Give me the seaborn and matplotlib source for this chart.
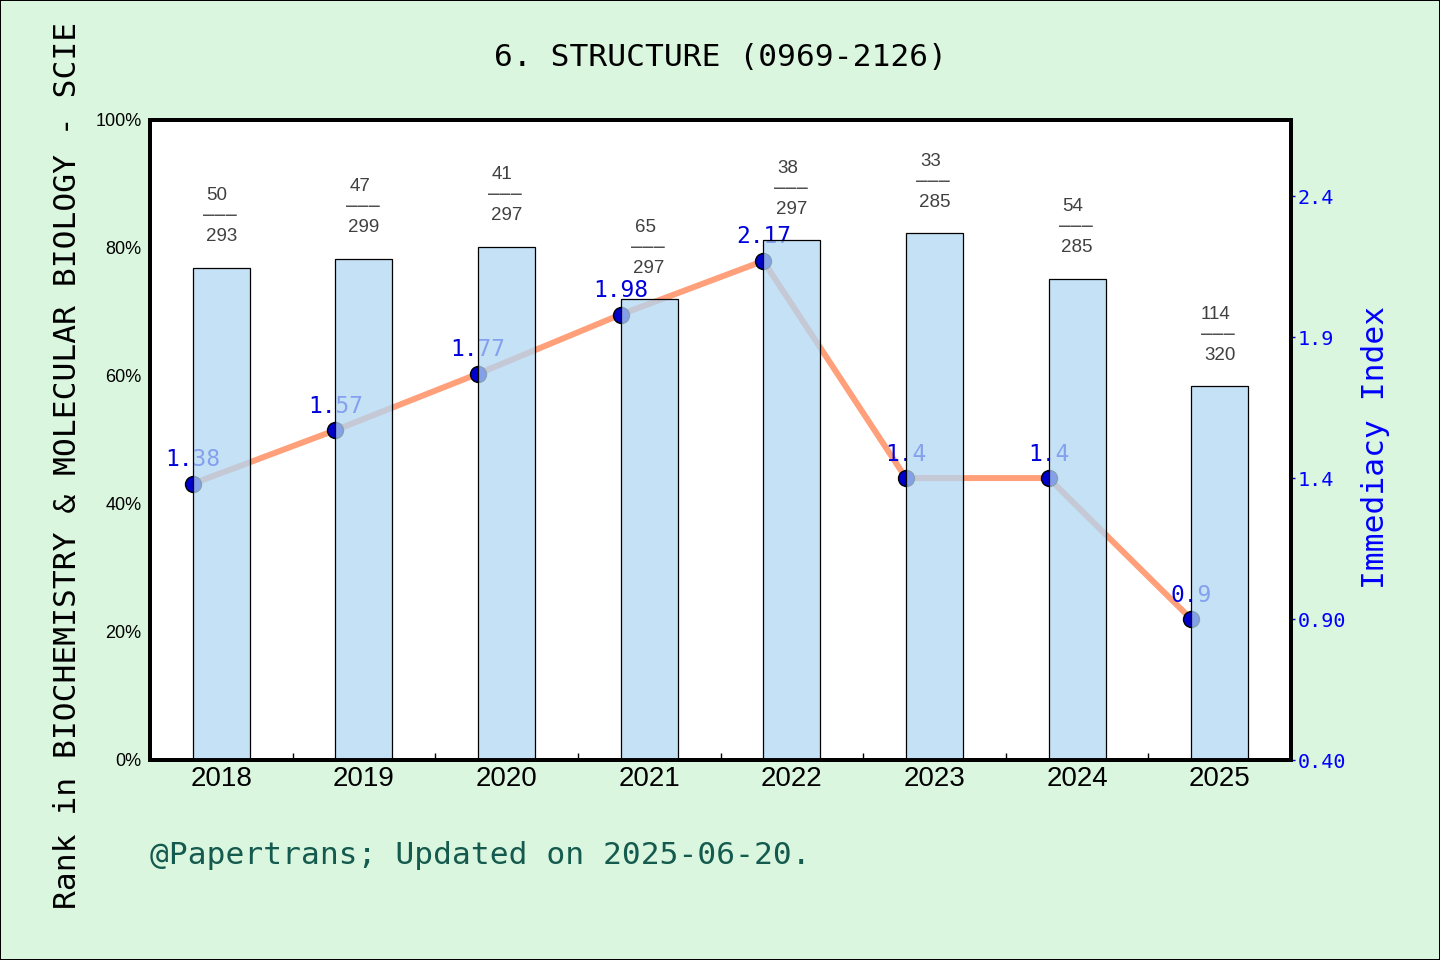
import matplotlib
matplotlib.use("Agg")
import matplotlib.pyplot as plt
import seaborn as sns
import pandas as pd
import numpy as np

years = [2018, 2019, 2020, 2021, 2022, 2023, 2024, 2025]
rank_pct = [0.769, 0.783, 0.802, 0.720, 0.8125, 0.823, 0.752, 0.584]
ranks = [50, 47, 41, 65, 38, 33, 54, 114]
totals = [293, 299, 297, 297, 297, 285, 285, 320]
imm_index = [1.38, 1.57, 1.77, 1.98, 2.17, 1.4, 1.4, 0.9]
imm_labels = ["1.38", "1.57", "1.77", "1.98", "2.17", "1.4", "1.4", "0.9"]
right_ticks = [0.4, 0.9, 1.4, 1.9, 2.4]
right_tick_labels = ["0.40", "0.90", "1.4", "1.9", "2.4"]

sns.set_style("white")
plt.rcParams["font.family"] = ["Liberation Sans", "DejaVu Sans"]
mono = ["DejaVu Sans Mono"]

bg = "#daf6de"
bar_rgba = (177 / 255, 215 / 255, 244 / 255, 0.75)
fig = plt.figure(figsize=(14.4, 9.6), dpi=100, facecolor=bg, edgecolor="black", linewidth=1.2)
ax = fig.add_axes([150 / 1440, 1 - 760 / 960, 1141 / 1440, 640 / 960])
ax2 = ax.twinx()

df = pd.DataFrame({"year": years, "bar_x": [y + 0.2 for y in years], "pct": rank_pct, "imm": imm_index})

# line on the back axis so that the bars tint it
sns.lineplot(data=df, x="year", y="imm", ax=ax2, color="#ffa07a", linewidth=4.3,
             marker="o", markersize=11.5, markerfacecolor="#0000cc",
             markeredgecolor="black", markeredgewidth=1)
for x, v, lab in zip(years, imm_index, imm_labels):
    ax2.annotate(lab, (x, v), xytext=(0, 9), textcoords="offset points",
                 ha="center", va="bottom", color="#0000dd", fontsize=16.5, family=mono)

sns.barplot(data=df, x="bar_x", y="pct", ax=ax, native_scale=True, width=0.4,
            color=bar_rgba[:3], saturation=1, edgecolor="black", linewidth=0.9)
for p in ax.patches:
    p.set_alpha(None)
    p.set_facecolor(bar_rgba)
    p.set_edgecolor("black")

# rank / total above each bar
for x, h, r, t in zip(years, rank_pct, ranks, totals):
    ax.annotate(str(t), (x + 0.2, h), xytext=(0, 22.3), textcoords="offset points",
                ha="center", va="center", fontsize=13.5, color="#404040")
    ax.annotate("\u2013\u2013\u2013", (x + 0.2, h), xytext=(-1, 37.4), textcoords="offset points",
                ha="center", va="center", fontsize=13.5, color="#505050", family=mono)
    ax.annotate(str(r), (x + 0.2, h), xytext=(-3, 51.8), textcoords="offset points",
                ha="center", va="center", fontsize=13.5, color="#404040")

ax.set_zorder(ax2.get_zorder() + 1)
ax.patch.set_visible(False)
ax2.patch.set_visible(True)
ax2.patch.set_facecolor("white")

ax.set_xlim(2017.7, 2025.7)
ax.set_ylim(0, 1)
ax2.set_ylim(0.4, 2.67)
ax.set_xticks([y + 0.2 for y in years])
ax.set_xticklabels([str(y) for y in years], fontsize=20, color="black")
ax.set_xticks([y + 0.7 for y in years[:-1]], minor=True)
ax.tick_params(axis="x", which="major", length=0, pad=4)
ax.tick_params(axis="x", which="minor", direction="in", length=5, width=1, bottom=True, color="black")
ax.set_yticks(np.linspace(0, 1, 6))
ax.set_yticklabels([f"{int(v * 100)}%" for v in np.linspace(0, 1, 6)], fontsize=13, color="black")
ax.tick_params(axis="y", length=0, pad=6)
ax.set_xlabel("")
ax.set_ylabel("")

ax2.set_yticks(right_ticks)
ax2.set_yticklabels(right_tick_labels, fontsize=14.5, color="blue", family=mono)
ax2.tick_params(axis="y", length=3, width=1, color="blue", pad=2)
ax2.set_xlabel("")
ax2.set_ylabel("")

for a in (ax, ax2):
    for s in a.spines.values():
        s.set_linewidth(2.8)
        s.set_color("black")

fig.text(0.5, 1 - 57 / 960, "6. STRUCTURE (0969-2126)", ha="center", va="center",
         fontsize=22.5, family=mono, color="black")
fig.text(68 / 1440, 1 - 465 / 960, "Rank in BIOCHEMISTRY & MOLECULAR BIOLOGY - SCIE",
         rotation=90, ha="center", va="center", fontsize=22.5, family=mono, color="black")
fig.text(1375 / 1440, 1 - 447 / 960, "Immediacy Index", rotation=90, ha="center",
         va="center", fontsize=22.5, family=mono, color="blue")
fig.text(150 / 1440, 1 - 855 / 960, "@Papertrans; Updated on 2025-06-20.", ha="left",
         va="center", fontsize=22.5, family=mono, color="#145a4e")

fig.savefig("out.png", dpi=100)
